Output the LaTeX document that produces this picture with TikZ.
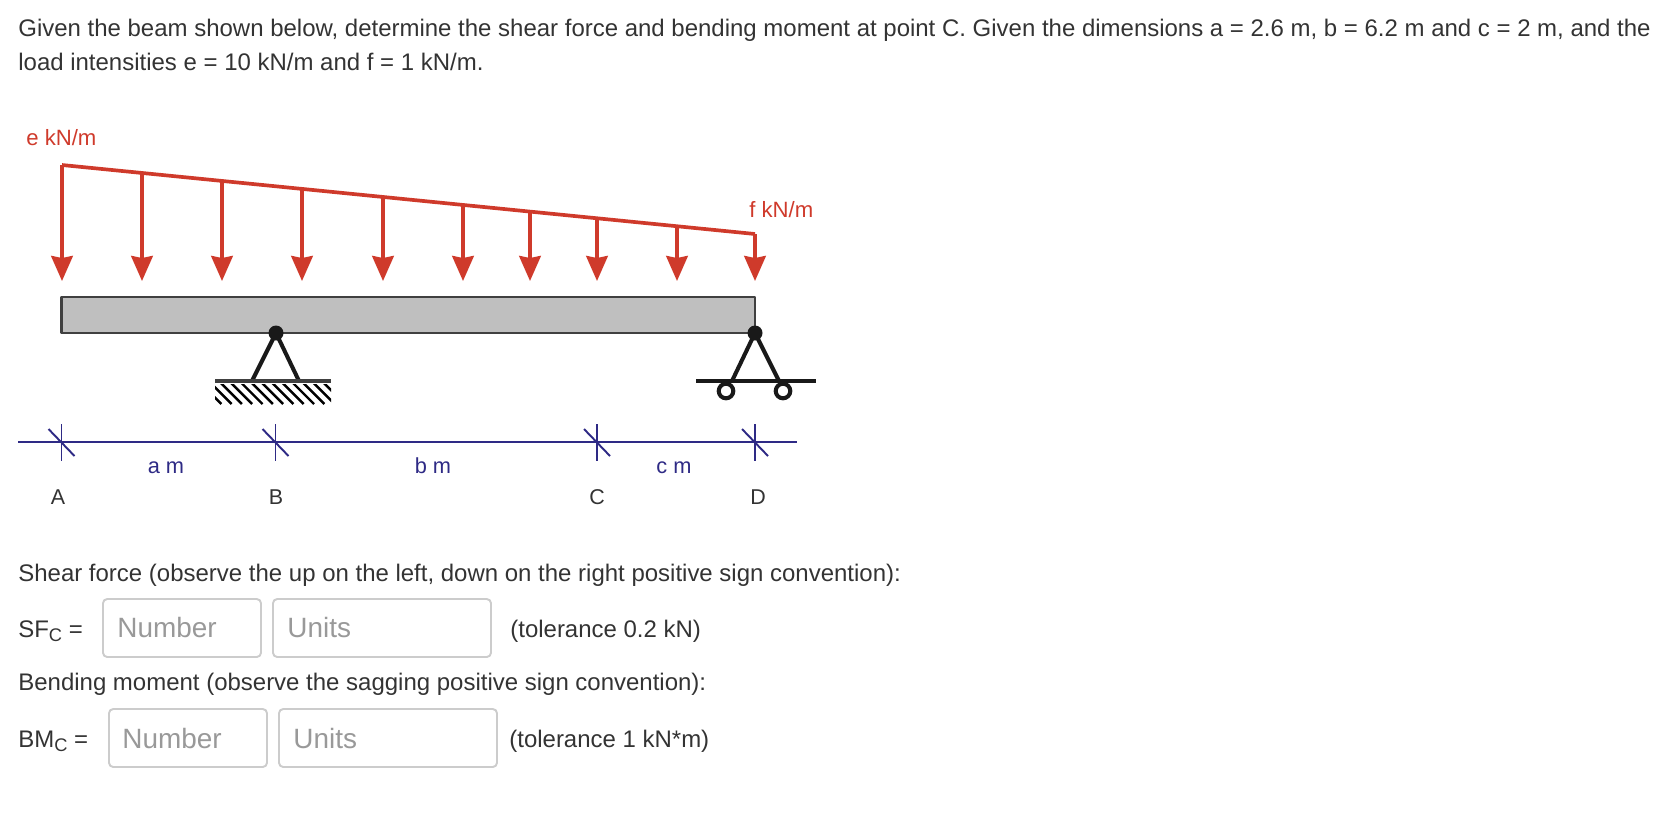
\documentclass[tikz,border=0pt]{standalone}
\usepackage{fontspec}
\setmainfont{Liberation Sans}
\usetikzlibrary{arrows.meta}
\definecolor{loadred}{HTML}{CF3A2B}
\definecolor{dimblue}{HTML}{2E2A85}
\definecolor{bodytext}{HTML}{333333}
\definecolor{holdertext}{HTML}{999999}
\definecolor{boxline}{HTML}{CCCCCC}
\newcommand{\subC}{\raisebox{-2.4pt}{\fontsize{10.4}{12}\selectfont C}}
\tikzset{
  para/.style={anchor=base west, inner sep=0pt, text=bodytext, font=\fontsize{13.65}{16}\selectfont},
  holder/.style={anchor=base west, inner sep=0pt, text=holdertext, font=\fontsize{15.9}{18}\selectfont},
  inputbox/.style={draw=boxline, line width=1.1pt, rounded corners=2.4pt},
  loadtxt/.style={anchor=base west, inner sep=0pt, text=loadred, font=\fontsize{12.6}{15}\selectfont},
  dimtxt/.style={anchor=base, inner sep=0pt, text=dimblue, font=\fontsize{12.4}{15}\selectfont},
  pointtxt/.style={anchor=base, inner sep=0pt, text=black!80, font=\fontsize{12.2}{15}\selectfont},
  loadline/.style={draw=loadred, line width=2.1pt},
  strut/.style={black!90, line width=2.3pt},
  dimline/.style={dimblue, line width=1.1pt}
}
\begin{document}
\begin{tikzpicture}[line join=round, >={Stealth[length=0.5cm,width=0.43cm,inset=0.04cm,fill=loadred]}, x=0.02cm, y=-0.02cm]
\useasboundingbox (0,0) rectangle (1666,819);
\def \yload{165};
\def \ytip{281};
\def \ydim{442};
% question text
\node[para] (line1) at (18,36) {Given the beam shown below, determine the shear force and bending moment at point C. Given the dimensions a = 2.6 m, b = 6.2 m and c = 2 m, and the};
\node[para] (line2) at (18,70) {load intensities e = 10 kN/m and f = 1 kN/m.};
% beam
\draw[fill=black!25, draw=black!75, line width=1.4pt] (61.5,297) rectangle (755,333);
% load
\draw[loadline] (62,\yload) -- (755,234);
\foreach \x in {62,142,222,302,383,463,530,597,677,755}\draw[->,loadline] (\x,{\yload+(\x-62)*0.09957}) -- (\x,\ytip);
\node[loadtxt] (loadleft) at (26,145) {e kN/m};
\node[loadtxt] (loadright) at (749,217) {f kN/m};
% pinned support
\draw[strut] (252,381) -- (276,333) -- (299,381);
\draw[strut, black!75, line width=1.9pt] (215,381) -- (331,381);
\begin{scope}
\clip (215,384) rectangle (331,404);
\foreach \x in {190,200.3,...,335}\draw[line width=1.4pt] (\x,383) -- (\x+21,404);
\end{scope}
\fill[black!90] (276,333) circle (7.5);
% roller support
\draw[strut] (732,381) -- (755,333) -- (779,381);
\draw[strut] (696,381) -- (816,381);
\foreach \x in {726,783}\draw[strut, fill=white] (\x,391) circle (7.3);
\fill[black!90] (755,333) circle (7.5);
% dimensions
\draw[dimline] (18,\ydim) -- (797,\ydim);
\foreach \x in {61.5,275.5,597,755}{
  \draw[dimline] (\x,424) -- (\x,461);
  \draw[dimline] (\x-13,429) -- (\x+13,456);
}
\node[dimtxt] (dima) at (166,473) {a m};
\node[dimtxt] (dimb) at (433,473) {b m};
\node[dimtxt] (dimc) at (674,473) {c m};
\node[pointtxt] (ptA) at (58,504) {A};
\node[pointtxt] (ptB) at (276,504) {B};
\node[pointtxt] (ptC) at (597,504) {C};
\node[pointtxt] (ptD) at (758,504) {D};
% answer rows
\node[para] (shear) at (18,581) {Shear force (observe the up on the left, down on the right positive sign convention):};
\node[para] (sflabel) at (18,637) {SF\subC{} =};
\draw[inputbox] (103,599) rectangle (261,657);
\draw[inputbox] (273,599) rectangle (491,657);
\node[holder] (sfnum) at (117,637) {Number};
\node[holder] (sfunit) at (287,637) {Units};
\node[para] (sftol) at (510,637) {(tolerance 0.2 kN)};
\node[para] (bending) at (18,690) {Bending moment (observe the sagging positive sign convention):};
\node[para] (bmlabel) at (18,747) {BM\subC{} =};
\draw[inputbox] (109,709) rectangle (267,767);
\draw[inputbox] (279,709) rectangle (497,767);
\node[holder] (bmnum) at (122,748) {Number};
\node[holder] (bmunit) at (293,748) {Units};
\node[para] (bmtol) at (509,747) {(tolerance 1 kN*m)};
\end{tikzpicture}
\end{document}
